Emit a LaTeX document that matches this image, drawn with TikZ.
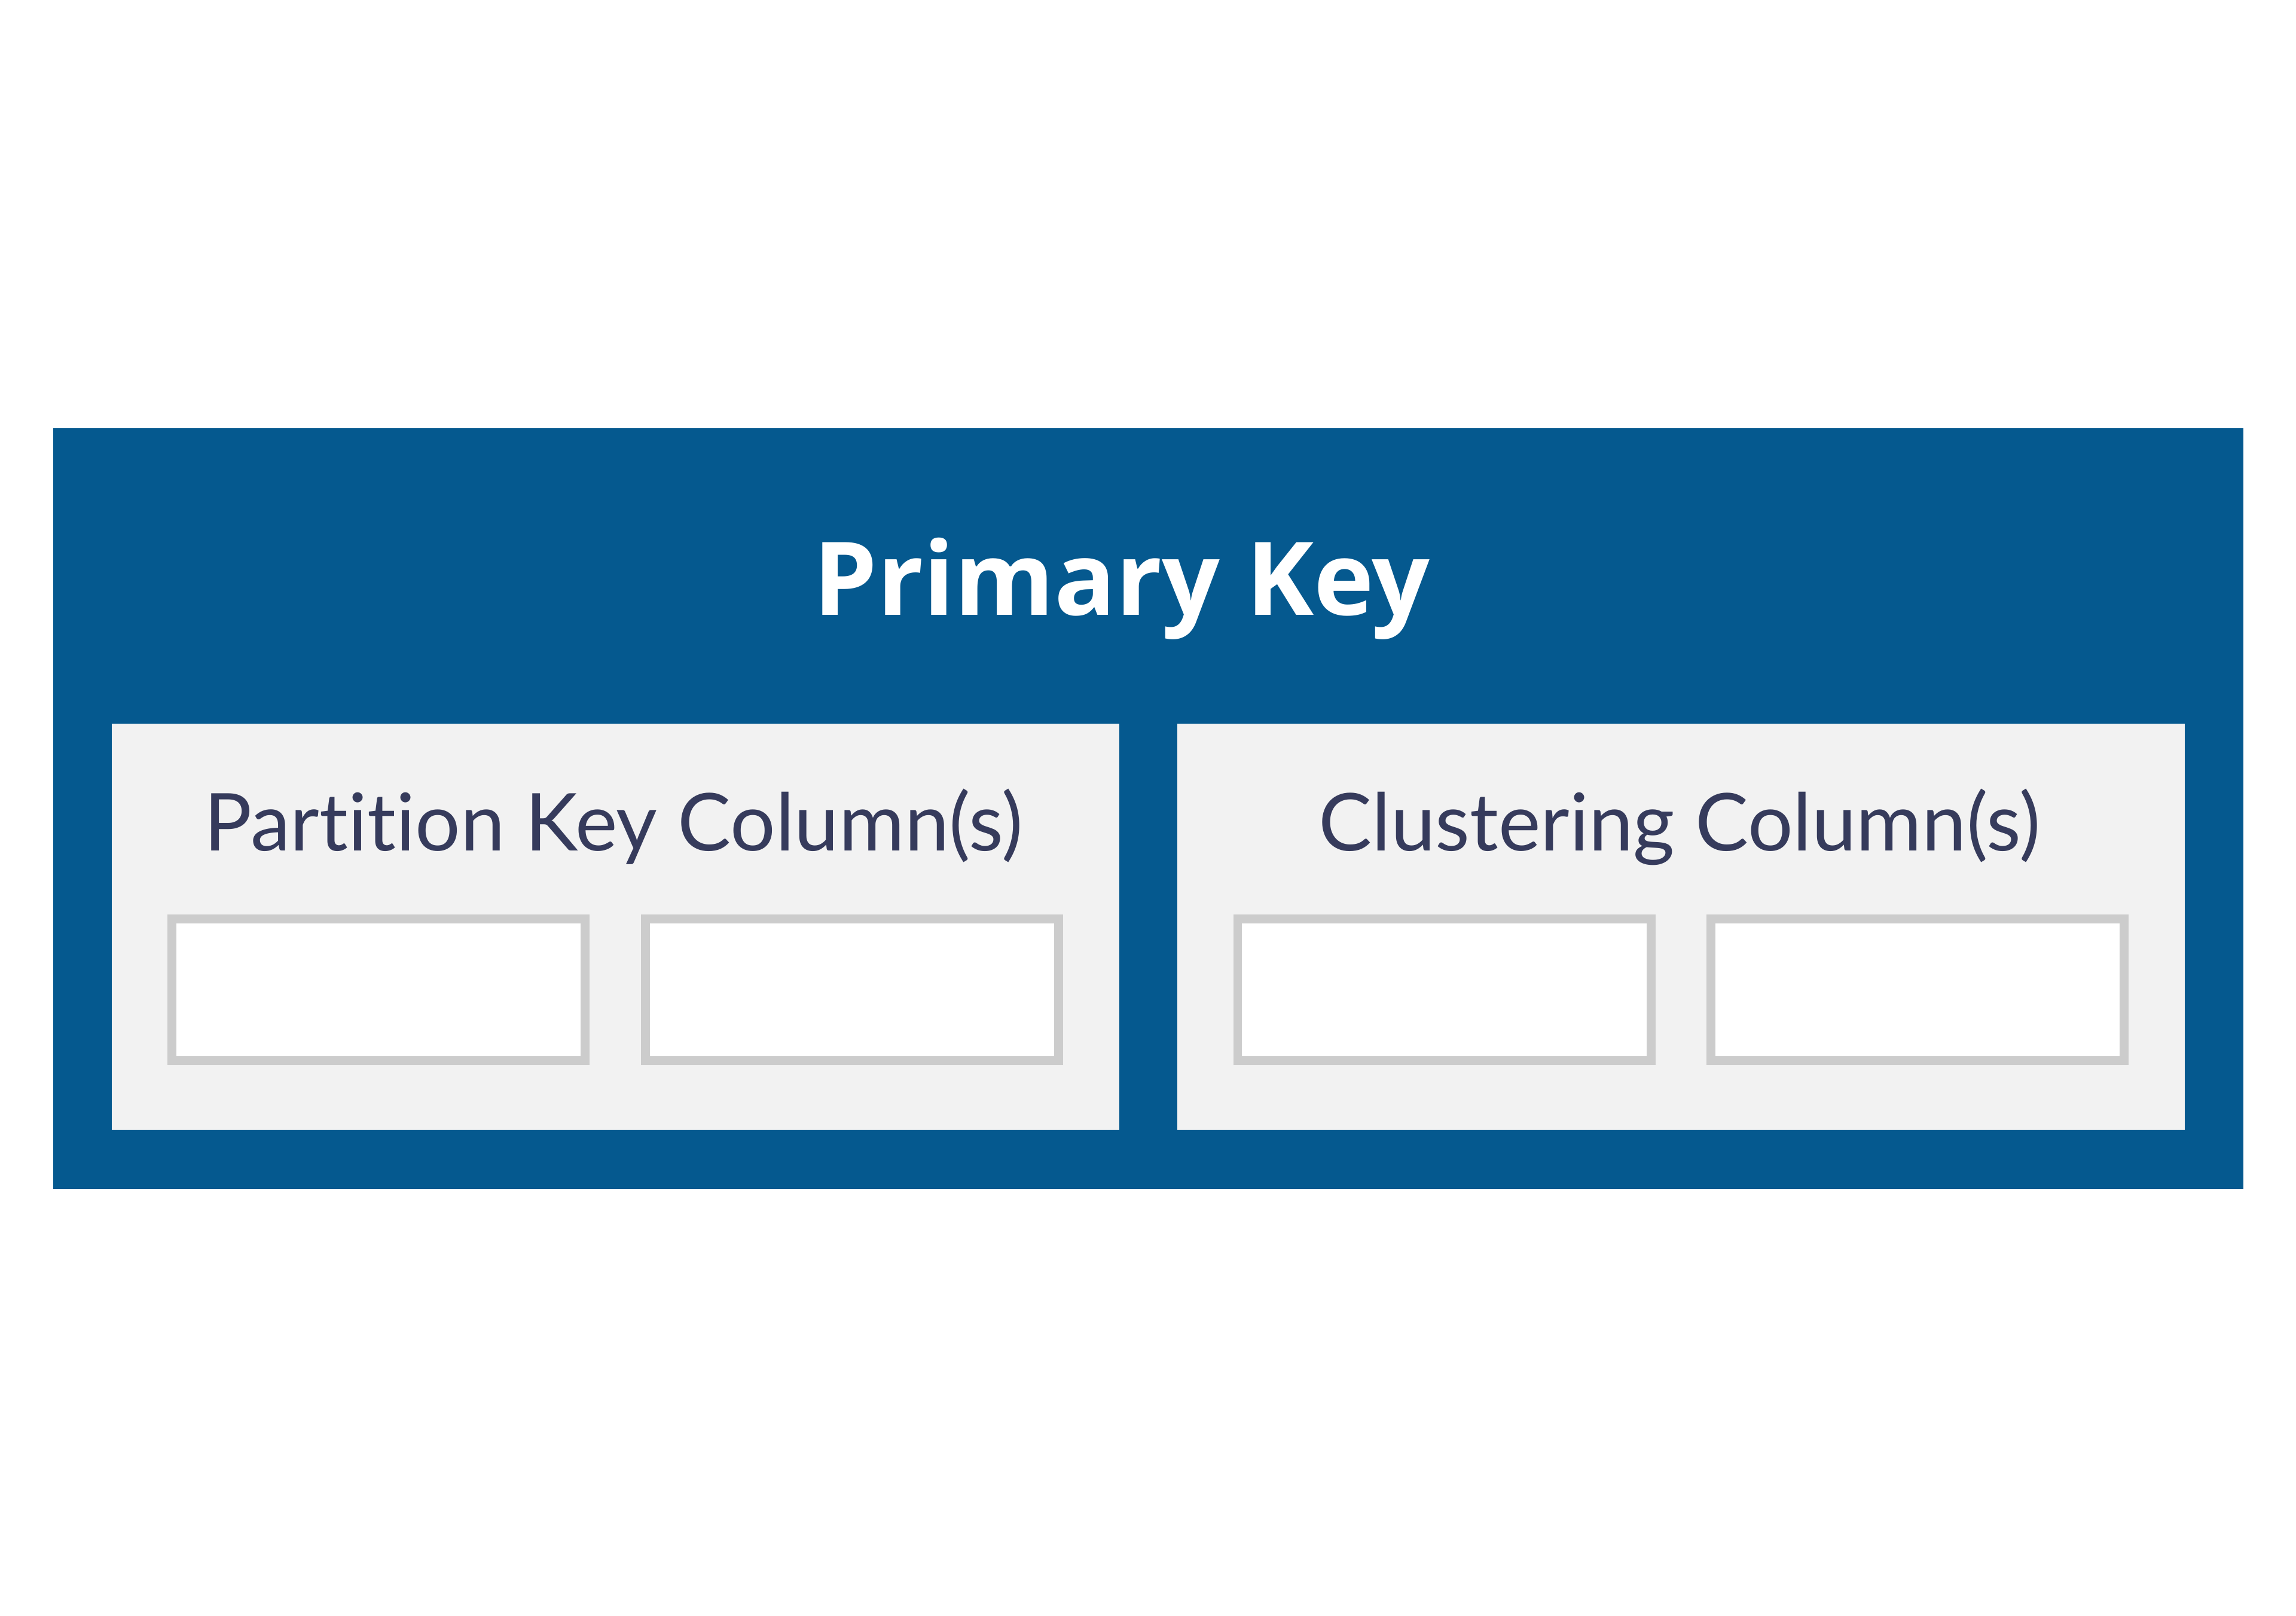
\documentclass[tikz,border=0pt]{standalone}
\usepackage{fontspec}
\setmainfont{Lato}[Ligatures=NoCommon]
\newfontfamily\titlefont{Open Sans}
\definecolor{keyblue}{HTML}{05598F}
\definecolor{panelgray}{HTML}{F2F2F2}
\definecolor{slotgray}{HTML}{CCCCCC}
\definecolor{labelnavy}{HTML}{363B5C}
\tikzset{
  panel/.style={fill=panelgray, draw=none, inner sep=0pt, anchor=north west,
    minimum width=688pt, minimum height=277pt},
  slot/.style={fill=white, draw=slotgray, line width=6pt, inner sep=0pt, outer sep=0pt,
    anchor=north west, minimum width=282.3pt, minimum height=97pt},
  paneltitle/.style={text=labelnavy, font=\fontsize{54.5}{60}\selectfont, anchor=base}
}
\begin{document}
\begin{tikzpicture}[x=1pt,y=-1pt]
        \useasboundingbox (0,0) rectangle (1568,1103.3);

        %outer key
        \node[fill=keyblue, inner sep=0pt, anchor=north west, minimum width=1496pt, minimum height=519.5pt] (pk) at (36,292) {};
        \node[text=white, font=\titlefont\bfseries\fontsize{69.5}{80}\selectfont, anchor=base] (pktitle) at (766,420) {Primary Key};

        %partition panel
        \node[panel] (part) at (76,494) {};
        \node[paneltitle] (parttitle) at (419,581) {Partition Key Column(s)};
        \node[slot] (part1) at (117.3,627.3) {};
        \node[slot] (part2) at (440.7,627.3) {};

        %clustering panel
        \node[panel] (clus) at (804,494) {};
        \node[paneltitle] (clustitle) at (1147,581) {Clustering Column(s)};
        \node[slot] (clus1) at (845.3,627.3) {};
        \node[slot] (clus2) at (1168.3,627.3) {};
    \end{tikzpicture}
\end{document}
